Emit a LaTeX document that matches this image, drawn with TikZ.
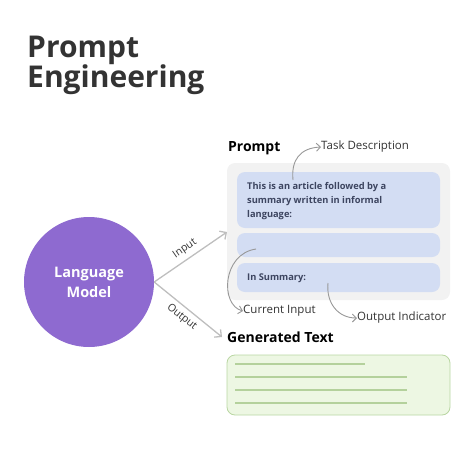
\documentclass[tikz,border=0pt]{standalone}
\usepackage{fontspec}
\setmainfont{Open Sans}
\usetikzlibrary{arrows.meta}

\begin{document}
\begin{tikzpicture}[x=1pt,y=-1pt]
	\definecolor{titlegray}{RGB}{51,51,51}
	\definecolor{lmpurple}{RGB}{142,106,208}
	\definecolor{arrowgray}{RGB}{190,190,190}
	\definecolor{panelgray}{RGB}{242,242,242}
	\definecolor{boxblue}{RGB}{211,221,243}
	\definecolor{boxtext}{RGB}{61,69,96}
	\definecolor{genfill}{RGB}{237,247,227}
	\definecolor{genborder}{RGB}{185,214,162}
	\definecolor{genline}{RGB}{180,209,156}

	\tikzset{
		grayarrow/.style={draw=arrowgray, line width=1.3pt, -{Straight Barb[length=5pt,width=10pt]}},
		curvearrow/.style={draw=arrowgray!80!black, line width=0.9pt, -{Straight Barb[length=4pt,width=8pt]}},
		header/.style={font=\bfseries\fontsize{14}{16}\selectfont, text=black, anchor=base west, inner sep=0pt},
		note/.style={font=\fontsize{11.5}{13}\selectfont, text=titlegray, anchor=west, inner sep=0pt},
		boxlabel/.style={font=\bfseries\fontsize{9.3}{14}\selectfont, text=boxtext, anchor=base west, inner sep=0pt, align=left},
		genbar/.style={draw=genline, line width=2.6pt}
	}

	\useasboundingbox (0,0) rectangle (474,474);

	% title
	\node[font=\bfseries\fontsize{30}{30}\selectfont, text=titlegray, anchor=base west, inner sep=0pt, align=left] (title) at (27,87) {Prompt\\Engineering};

	% language model
	\node[circle, fill=lmpurple, minimum size=130pt, inner sep=0pt, font=\bfseries\fontsize{14.5}{20}\selectfont, text=white, align=center] (lm) at (89,282) {Language\\Model};
	\coordinate (promptin) at (227,232);
	\coordinate (genout) at (222,337);
	\draw[grayarrow] (lm.east) -- (promptin) node[midway, sloped, above=1pt, font=\fontsize{10.5}{12}\selectfont, text=titlegray] (inlabel) {Input};
	\draw[grayarrow] (lm.east) -- (genout) node[midway, sloped, below=1pt, font=\fontsize{10.5}{12}\selectfont, text=titlegray] (outlabel) {Output};

	% prompt panel
	\node[header] (prompt) at (228,151) {Prompt};
	\fill[panelgray, rounded corners=8pt] (227,163) rectangle (450,300);
	\fill[boxblue, rounded corners=8pt] (237,172) rectangle (440,228);
	\fill[boxblue, rounded corners=8pt] (237,233) rectangle (440,257);
	\fill[boxblue, rounded corners=8pt] (237,263) rectangle (440,292);
	\node[boxlabel] (taskline) at (247,217) {This is an article followed by a\\summary written in informal\\language:};
	\node[boxlabel] (summary) at (247,280) {In Summary:};

	% annotations
	\node[note] (taskdesc) at (321,147) {Task Description};
	\node[note] (currinput) at (243,311) {Current Input};
	\node[note] (outind) at (357,318) {Output Indicator};
	\coordinate (taskstart) at (293,180);
	\coordinate (inputstart) at (256,249);
	\coordinate (indstart) at (328,283);
	\draw[curvearrow] (taskstart) .. controls (291,160) and (300,148) .. (taskdesc.west);
	\draw[curvearrow] (inputstart) .. controls (222,254) and (220,305) .. (currinput.west);
	\draw[curvearrow] (indstart) .. controls (326,303) and (338,318) .. (outind.west);

	% generated text
	\node[header] (gentext) at (227,342) {Generated Text};
	\draw[genborder, fill=genfill, line width=0.8pt, rounded corners=8pt] (227,355) rectangle (450,415);
	\draw[genbar] (235,364) -- (365,364);
	\foreach \y in {377,390,403}
		\draw[genbar] (235,\y) -- (407,\y);
\end{tikzpicture}
\end{document}
